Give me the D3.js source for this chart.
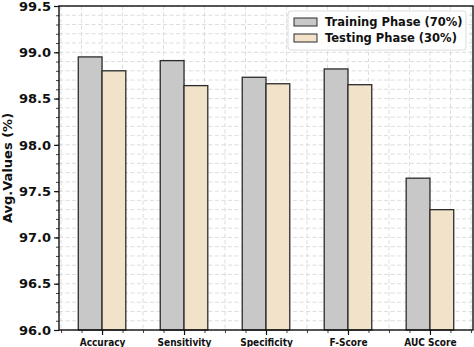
<!DOCTYPE html>
<html>
<head>
<meta charset="utf-8">
<script src="https://cdn.jsdelivr.net/npm/d3@7"></script>
<style>
  body { margin: 0; background: #fff; }
  svg { display: block; }
</style>
</head>
<body>
<div id="chart"></div>
<script>
const categories = ["Accuracy", "Sensitivity", "Specificity", "F-Score", "AUC Score"]
const training = [98.95, 98.91, 98.73, 98.82, 97.64]
const testing = [98.80, 98.64, 98.66, 98.65, 97.30]
const seriesNames = ["Training Phase (70%)", "Testing Phase (30%)"]
const seriesColors = ["#c8c8c8", "#f1e2c9"]
const yTicks = [96.0, 96.5, 97.0, 97.5, 98.0, 98.5, 99.0, 99.5]

const W = 474, H = 347
const PLOT = { LEFT: 59, RIGHT: 473, TOP: 6, BOTTOM: 330 }
const BAR_W = 0.29

const svg = d3.select("#chart").append("svg")
  .attr("width", W)
  .attr("height", H)

const x = d3.scaleLinear()
  .domain([-0.525, categories.length - 1 + 0.525])
  .range([PLOT.LEFT, PLOT.RIGHT])

const y = d3.scaleLinear()
  .domain([96, 99.5])
  .range([PLOT.BOTTOM, PLOT.TOP])

// grid lines (minor steps)
const yMinor = d3.range(96, 99.5001, 0.1)
const xMinor = d3.range(-0.5, categories.length - 0.5 + 0.001, 0.25)

const grid = svg.append("g")
grid.selectAll(".hg")
  .data(yMinor)
  .enter().append("line")
  .attr("x1", PLOT.LEFT).attr("x2", PLOT.RIGHT)
  .attr("y1", d => y(d)).attr("y2", d => y(d))
  .attr("stroke", "#d4d4d4")
  .attr("stroke-width", 0.8)
  .attr("stroke-dasharray", "4,2.5")
grid.selectAll(".vg")
  .data(xMinor)
  .enter().append("line")
  .attr("x1", d => x(d)).attr("x2", d => x(d))
  .attr("y1", PLOT.TOP).attr("y2", PLOT.BOTTOM)
  .attr("stroke", "#d4d4d4")
  .attr("stroke-width", 0.8)
  .attr("stroke-dasharray", "4,2.5")

// bars
const bars = svg.append("g")
const series = [training, testing]
series.forEach(function(vals, s) {
  bars.selectAll(".bar" + s)
    .data(vals)
    .enter().append("rect")
    .attr("x", (d, i) => s === 0 ? x(i - BAR_W) : x(i))
    .attr("width", x(BAR_W) - x(0))
    .attr("y", d => y(d))
    .attr("height", d => y(96) - y(d))
    .attr("fill", seriesColors[s])
    .attr("stroke", "#2b2b2b")
    .attr("stroke-width", 1.3)
})

// y axis
const yAxis = svg.append("g")
  .attr("transform", `translate(${PLOT.LEFT},0)`)
  .call(d3.axisLeft(y).tickValues(yTicks).tickFormat(d3.format(".1f")).tickSize(5).tickPadding(3))
yAxis.select(".domain").remove()
yAxis.selectAll("text")
  .style("font-family", "DejaVu Sans")
  .style("font-weight", "bold")
  .style("font-size", "13px")
  .attr("fill", "#111")
yAxis.selectAll(".tick line").attr("stroke", "#111").attr("stroke-width", 1.2)

svg.append("g")
  .attr("transform", `translate(${PLOT.LEFT},0)`)
  .call(d3.axisLeft(y).tickValues(yMinor).tickSize(3).tickFormat(""))
  .call(g => g.select(".domain").remove())
  .selectAll("line").attr("stroke", "#111").attr("stroke-width", 0.8)

// x axis
const xAxis = svg.append("g")
  .attr("transform", `translate(0,${PLOT.BOTTOM})`)
  .call(d3.axisBottom(x).tickValues(d3.range(categories.length))
    .tickFormat(i => categories[i]).tickSize(5).tickPadding(4))
xAxis.select(".domain").remove()
xAxis.selectAll("text")
  .style("font-family", "DejaVu Sans Condensed, DejaVu Sans")
  .style("font-weight", "bold")
  .style("font-size", "10px")
  .attr("fill", "#111")
xAxis.selectAll(".tick line").attr("stroke", "#111").attr("stroke-width", 1.2)

svg.append("g")
  .attr("transform", `translate(0,${PLOT.BOTTOM})`)
  .call(d3.axisBottom(x).tickValues(xMinor).tickSize(3).tickFormat(""))
  .call(g => g.select(".domain").remove())
  .selectAll("line").attr("stroke", "#111").attr("stroke-width", 0.8)

// frame
svg.append("rect")
  .attr("x", PLOT.LEFT).attr("y", PLOT.TOP)
  .attr("width", PLOT.RIGHT - PLOT.LEFT).attr("height", PLOT.BOTTOM - PLOT.TOP)
  .attr("fill", "none")
  .attr("stroke", "#111")
  .attr("stroke-width", 1.4)

// y label
svg.append("text")
  .attr("transform", `translate(12,${(PLOT.TOP + PLOT.BOTTOM) / 2}) rotate(-90)`)
  .attr("text-anchor", "middle")
  .style("font-family", "DejaVu Sans")
  .style("font-weight", "bold")
  .style("font-size", "13px")
  .attr("fill", "#111")
  .text("Avg.Values (%)")

// legend
const legend = svg.append("g").attr("transform", "translate(288,11)")
legend.append("rect")
  .attr("width", 178).attr("height", 39)
  .attr("rx", 3)
  .attr("fill", "#fff")
  .attr("fill-opacity", 0.85)
  .attr("stroke", "#dcdcdc")

seriesNames.forEach(function(name, i) {
  const row = legend.append("g").attr("transform", `translate(6,${7 + i * 16})`)
  row.append("rect")
    .attr("width", 23).attr("height", 8)
    .attr("fill", seriesColors[i])
    .attr("stroke", "#2b2b2b")
    .attr("stroke-width", 1)
  row.append("text")
    .attr("x", 31).attr("y", 8)
    .style("font-family", "DejaVu Sans")
    .style("font-weight", "bold")
    .style("font-size", "11.5px")
    .attr("fill", "#111")
    .text(name)
})
</script>
</body>
</html>
